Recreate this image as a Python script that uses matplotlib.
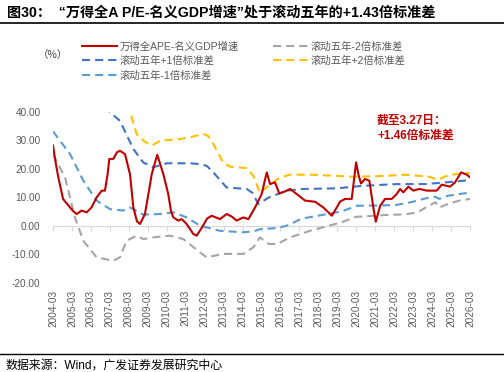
import matplotlib
matplotlib.use("Agg")
import matplotlib.pyplot as plt
from matplotlib.lines import Line2D

plt.rcParams['font.family'] = ['Liberation Sans', 'Noto Sans CJK SC', 'DejaVu Sans']

# ---------------- data (decimal years, %) ----------------
red_x = [2004.17, 2004.30, 2004.45, 2004.70, 2005.07, 2005.25, 2005.42, 2005.68, 2005.95, 2006.20,
         2006.47, 2006.74, 2006.91, 2007.05, 2007.14, 2007.35, 2007.55, 2007.70, 2007.97, 2008.23,
         2008.41, 2008.60, 2008.76, 2009.02, 2009.20, 2009.38, 2009.67, 2009.99, 2010.25, 2010.40,
         2010.52, 2010.78, 2010.96, 2011.22, 2011.57, 2011.75, 2012.01, 2012.30, 2012.54, 2012.80,
         2012.98, 2013.33, 2013.60, 2013.86, 2014.21, 2014.48, 2014.83, 2015.18, 2015.35, 2015.45,
         2015.62, 2015.88, 2016.11, 2016.40, 2016.68, 2017.03, 2017.47, 2018.00, 2018.43, 2018.88,
         2019.14, 2019.32, 2019.58, 2019.93, 2020.16, 2020.30, 2020.42, 2020.63, 2020.86, 2021.07,
         2021.20, 2021.43, 2021.69, 2022.04, 2022.30, 2022.48, 2022.65, 2022.92, 2023.18, 2023.50,
         2023.89, 2024.41, 2024.68, 2025.12, 2025.38, 2025.70, 2026.00, 2026.17]
red_y = [28.1, 22.5, 17.0, 9.4, 6.4, 5.0, 4.1, 5.3, 4.7, 6.4,
         9.9, 12.3, 12.3, 18.0, 23.4, 23.4, 25.8, 26.3, 25.1, 18.1,
         6.4, 1.5, 0.6, 4.1, 11.0, 18.1, 24.9, 18.1, 11.1, 5.0,
         2.9, 1.8, 2.3, 0.6, -2.9, -3.5, -0.8, 2.5, 3.5, 2.8,
         2.3, 4.1, 3.2, 1.8, 2.9, 2.3, 6.4, 11.1, 16.0, 18.7,
         14.6, 15.2, 11.3, 12.0, 12.9, 11.1, 8.8, 8.4, 6.4, 3.5,
         6.4, 8.5, 9.4, 9.4, 22.2, 17.5, 14.8, 16.4, 15.8, 6.4,
         1.4, 7.0, 9.4, 9.4, 11.1, 12.9, 11.7, 13.7, 12.3, 12.9,
         12.3, 12.3, 14.4, 13.7, 15.2, 18.7, 17.9, 17.0]

p2_x = [2008.10, 2008.58, 2009.00, 2009.38, 2009.82, 2010.87, 2011.50, 2012.10, 2012.35, 2012.63,
        2013.16, 2013.51, 2014.39, 2014.74, 2015.09, 2015.53, 2016.15, 2016.68, 2017.73, 2019.14,
        2019.84, 2021.00, 2022.00, 2022.70, 2023.50, 2024.00, 2024.45, 2024.94, 2025.40, 2026.17]
p2_y = [43.0, 32.2, 29.5, 28.1, 29.8, 30.4, 31.2, 32.2, 31.5, 28.7,
        22.0, 20.7, 20.2, 17.5, 11.5, 14.0, 16.9, 17.9, 17.9, 17.5,
        17.2, 17.3, 17.6, 17.9, 17.5, 17.2, 16.1, 17.5, 18.1, 18.5]

p1_x = [2006.90, 2007.18, 2007.70, 2008.41, 2008.93, 2009.46, 2010.17, 2011.40, 2011.93, 2012.28,
        2012.63, 2013.33, 2014.39, 2014.70, 2015.00, 2015.55, 2016.50, 2017.40, 2019.14, 2020.53,
        2022.30, 2023.80, 2024.90, 2026.17]
p1_y = [42.0, 39.8, 36.8, 26.9, 22.2, 20.5, 21.9, 21.9, 21.6, 21.0,
        18.7, 13.4, 12.9, 11.5, 7.6, 9.9, 12.3, 12.9, 13.1, 14.0,
        14.6, 14.6, 15.2, 16.0]

m1_x = [2004.17, 2005.07, 2005.77, 2006.47, 2007.18, 2007.88, 2008.23, 2008.93, 2009.82, 2010.52,
        2011.22, 2011.93, 2012.98, 2014.21, 2014.75, 2015.10, 2015.60, 2016.00, 2016.50, 2017.30,
        2018.40, 2019.40, 2020.20, 2022.20, 2023.10, 2023.90, 2024.35, 2024.55, 2025.00, 2025.70,
        2026.17]
m1_y = [33.1, 25.1, 15.8, 8.8, 5.8, 5.3, 6.4, 3.9, 4.1, 4.7,
        2.9, 0.0, -1.8, -2.3, -2.0, -1.2, -1.0, -0.8, 0.0, 2.5,
        3.8, 5.0, 7.0, 7.2, 8.3, 9.7, 10.1, 9.4, 10.5, 11.2,
        11.6]

m2_x = [2004.17, 2004.80, 2005.33, 2005.77, 2006.47, 2007.35, 2007.70, 2008.05, 2008.58, 2008.93,
        2009.46, 2010.34, 2011.05, 2011.93, 2012.28, 2013.16, 2014.21, 2014.74, 2015.09, 2015.55,
        2016.00, 2016.68, 2017.73, 2018.50, 2019.40, 2020.15, 2022.10, 2022.70, 2023.40, 2024.00,
        2024.35, 2024.55, 2025.00, 2025.60, 2026.17]
m2_y = [25.1, 17.0, 2.9, -5.3, -11.1, -12.3, -11.1, -5.3, -3.5, -4.7,
        -4.1, -3.5, -4.7, -9.4, -11.1, -9.9, -9.9, -7.6, -4.1, -6.4,
        -6.4, -4.1, -1.8, -0.4, 1.2, 3.1, 3.9, 3.9, 4.7, 7.0,
        8.2, 6.4, 7.6, 8.8, 9.4]

x_tick_labels = ["%d-03" % y for y in range(2004, 2027)]
x_tick_pos = [y + 0.17 for y in range(2004, 2027)]
y_ticks = [-20, -10, 0, 10, 20, 30, 40]

series_labels = ["万得全APE-名义GDP增速", "滚动五年+1倍标准差", "滚动五年-1倍标准差",
                 "滚动五年-2倍标准差", "滚动五年+2倍标准差"]

title = "图30：  “万得全A P/E-名义GDP增速”处于滚动五年的+1.43倍标准差"
note = "截至3.27日：\n+1.46倍标准差"
source = "数据来源：Wind，广发证券发展研究中心"

# ---------------- figure ----------------
W, H = 504, 372
fig = plt.figure(figsize=(W / 100, H / 100), dpi=100)
ax = fig.add_axes([53 / W, 1 - 282.7 / H, 417 / W, (282.7 - 111.7) / H])

gray_txt = '#595959'
dash = (0, (3.9, 2.4))
lw = 1.5

h_red, = ax.plot(red_x, red_y, color='#C00000', lw=lw, zorder=5, solid_joinstyle='round')
h_p1, = ax.plot(p1_x, p1_y, color='#4472C4', lw=lw, ls=dash, zorder=4)
h_m1, = ax.plot(m1_x, m1_y, color='#5B9BD5', lw=lw, ls=dash, zorder=4)
h_m2, = ax.plot(m2_x, m2_y, color='#A5A5A5', lw=lw, ls=dash, zorder=4)
h_p2, = ax.plot(p2_x, p2_y, color='#FFC000', lw=lw, ls=dash, zorder=4)

ax.set_xlim(2004.17, 2026.17)
ax.set_ylim(-20, 40)
for s in ax.spines.values():
    s.set_visible(False)

ax.set_yticks(y_ticks)
ax.set_yticklabels(["%.2f" % v for v in y_ticks])
ax.set_xticks(x_tick_pos)
ax.set_xticklabels(x_tick_labels, rotation=90)
ax.tick_params(axis='both', length=0, labelsize=7.2, labelcolor=gray_txt)
ax.tick_params(axis='y', pad=9)
ax.tick_params(axis='x', pad=5)

# zero axis line with tick marks
sec = ax.secondary_xaxis(20 / 60)
sec.set_xticks(x_tick_pos)
sec.tick_params(axis='x', length=3.5, width=0.8, color='#D9D9D9', labelbottom=False, direction='out')
sec.spines['bottom'].set_color('#D9D9D9')
sec.spines['bottom'].set_linewidth(0.9)
sec.set_zorder(1)

# legend
fig.legend([h_red, h_p1, h_m1, h_m2, h_p2], series_labels, ncol=2,
           loc='upper left', bbox_to_anchor=(77 / W, 1 - 36 / H),
           frameon=False, fontsize=7.5, labelcolor=gray_txt, borderpad=0,
           handlelength=3.3, handletextpad=0.3, labelspacing=0.42, columnspacing=3.3)

fig.text(53 / W, 1 - 55 / H, "（%）", ha='center', va='center', fontsize=7.5, color='#404040',
         family=['Noto Sans CJK SC', 'DejaVu Sans'])

# annotation
fig.text(377 / W, 1 - 115 / H, note, ha='left', va='top', fontsize=8.5,
         fontweight='bold', color='#C00000', linespacing=1.35)

# title and rules
fig.text(7 / W, 1 - 12.5 / H, title, ha='left', va='center', fontsize=10.2, fontweight='bold', color='black')
fig.add_artist(Line2D([0, 1], [1 - 23 / H, 1 - 23 / H], color='black', lw=1.2, transform=fig.transFigure))
fig.add_artist(Line2D([0, 1], [1 - 354 / H, 1 - 354 / H], color='black', lw=1.0, transform=fig.transFigure))
fig.text(6 / W, 1 - 365.5 / H, source, ha='left', va='center', fontsize=8.6, color='black')

fig.savefig("out.png", dpi=100)
